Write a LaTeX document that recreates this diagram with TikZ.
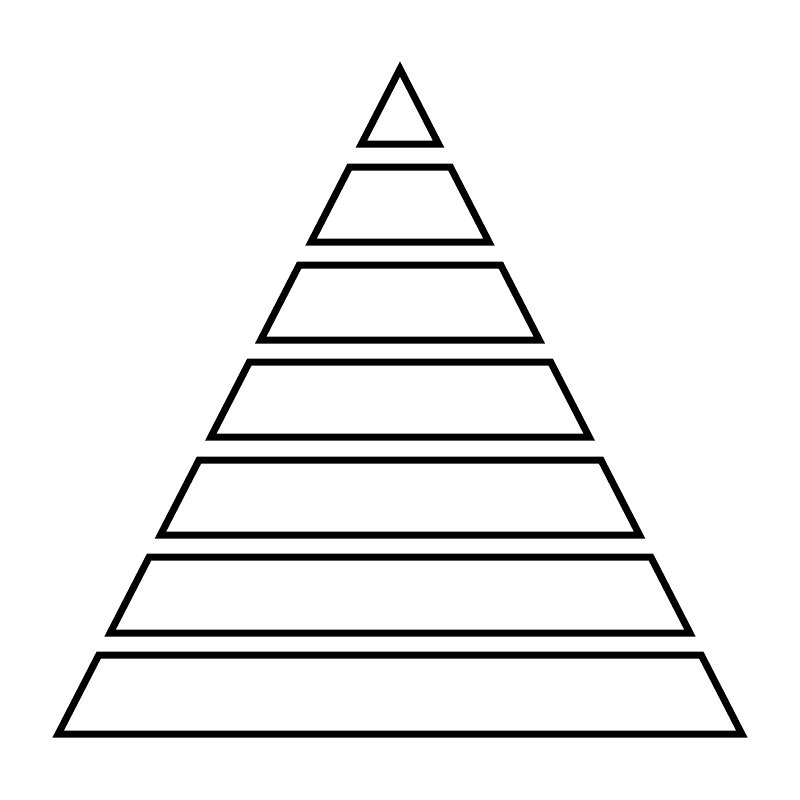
\documentclass[tikz,border=0pt]{standalone}
\begin{document}
\begin{tikzpicture}[x=1pt,y=-1pt,
  layer/.style={draw=black, line width=7pt, line join=miter, miter limit=10}]
\useasboundingbox[fill=white] (0,0) rectangle (800,800);
\def\s{0.514}
% top triangle
\draw[layer] (400,69) -- ({400+\s*(144-69)},144) -- ({400-\s*(144-69)},144) -- cycle;
% trapezoid layers
\foreach \t/\b in {167/242, 265/340, 362/437, 460/535, 557/633, 655/734}{
  \draw[layer] ({400-\s*(\t-69)},\t) -- ({400+\s*(\t-69)},\t)
     -- ({400+\s*(\b-69)},\b) -- ({400-\s*(\b-69)},\b) -- cycle;
}
\end{tikzpicture}
\end{document}
